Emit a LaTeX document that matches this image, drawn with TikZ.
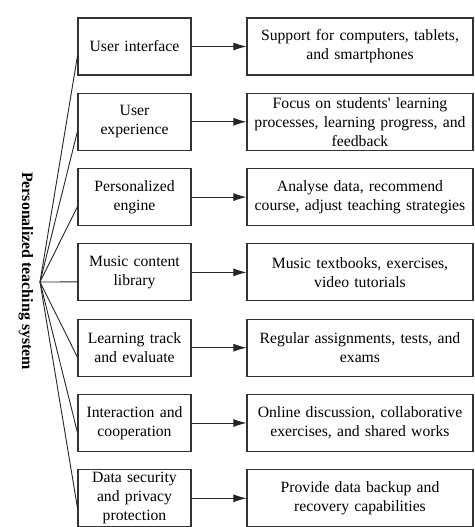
\documentclass[tikz,border=0pt]{standalone}
\usepackage{fontspec}
\setmainfont{Liberation Serif}
\usetikzlibrary{arrows.meta}
\begin{document}
\begin{tikzpicture}[x=1pt,y=-1pt,
  box/.style={draw=black!80,line width=1.1pt,minimum height=57pt,align=center,inner sep=1pt,font=\fontsize{15.7}{19}\selectfont},
  lbox/.style={box,minimum width=113pt,text width=111pt},
  rbox/.style={box,minimum width=226pt,text width=224pt},
  conn/.style={draw=black!85,line width=0.9pt},
  arr/.style={conn,-{Latex[length=13pt,width=8pt]}}]
\useasboundingbox (0,0) rectangle (474,527);
\clip (0,0) rectangle (474,527);
\coordinate (hub) at (40,282);
\node[font=\bfseries\fontsize{15.9}{18}\selectfont,rotate=-90] (title) at (26,271) {Personalized teaching system};
\foreach \i/\l/\r [count=\n from 0] in {
  a/{User interface}/{Support for computers, tablets,\\and smartphones},
  b/{User\\experience}/{Focus on students\textquotesingle{} learning\\processes, learning progress, and\\feedback},
  c/{Personalized\\engine}/{Analyse data, recommend\\course, adjust teaching strategies},
  d/{Music content\\library}/{Music textbooks, exercises,\\video tutorials},
  e/{Learning track\\and evaluate}/{Regular assignments, tests, and\\exams},
  f/{Interaction and\\cooperation}/{Online discussion, collaborative\\exercises, and shared works},
  g/{Data security\\and privacy\\protection}/{Provide data backup and\\recovery capabilities}}{
  \node[lbox] (L\i) at (134.5,{46.5+75.3*\n}) {\l};
  \node[rbox] (R\i) at (360,{46.5+75.3*\n}) {\r};
  \draw[arr] (L\i.east) -- (R\i.west);
  \draw[conn] (hub) -- ([yshift=-9.5pt]L\i.west);
}
\end{tikzpicture}
\end{document}
